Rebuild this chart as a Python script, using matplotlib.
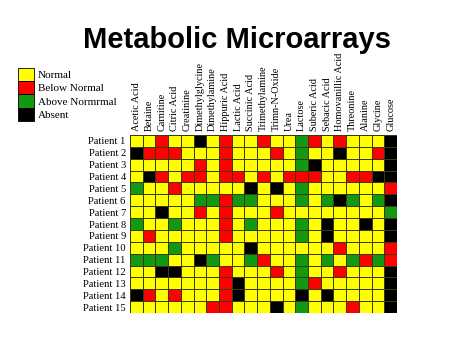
import matplotlib
matplotlib.use("Agg")
import matplotlib.pyplot as plt
import numpy as np
from matplotlib.colors import ListedColormap, BoundaryNorm
from matplotlib.patches import Patch

metabolites = ["Acetic Acid", "Betaine", "Carnitine", "Citric Acid", "Creatinine",
               "Dimethylglycine", "Dimethylamine", "Hippuric Acid", "Lactic Acid",
               "Succinic Acid", "Trimethylamine", "Trimn-N-Oxide", "Urea", "Lactose",
               "Suberic Acid", "Sebacic Acid", "Homovanillic Acid", "Threonine",
               "Alanine", "Glycine", "Glucose"]
patients = [f"Patient {i}" for i in range(1, 16)]
status_labels = ["Normal", "Below Normal", "Above Normrmal", "Absent"]
status_colors = ["#FFFF00", "#FF0000", "#129812", "#000000"]

# Y = normal, R = below, G = above, K = absent
grid_rows = [
    "YYRYYKYRYYRYYGRYRYYYK",
    "KRRRYYYRYYYRYGYYKYYRK",
    "YYYYYRYRYYYYYGKYYYYYK",
    "YKRYRRYRRYRYRRRYYRRKK",
    "GYYRYYYYYKYKYGYYYYYYR",
    "YYYYYGGRGGYYYGYGKGYGK",
    "YYKYYRYRYYYRYYYYYYYYG",
    "GYYGYYYRYGYYYGYKYYKYK",
    "YRYYYYYRYYYYYGYKYYYYK",
    "YYYGYYYYYKYYYYYYRYYYR",
    "GGGYYKGYYGRYYGYGYGRGR",
    "YYKKYYYRYYYRYGYYRYYYK",
    "YYYYYYYRKYYYYGRYYYYYK",
    "KRYRYYYRKYYYYKYKYYYYK",
    "YYYYYYRRYYYKYGYYYRYYK",
]
code = {"Y": 0, "R": 1, "G": 2, "K": 3}
data = np.array([[code[c] for c in row] for row in grid_rows])

fig = plt.figure(figsize=(4.74, 3.55), dpi=100)
W, H = 474, 355
ax = fig.add_axes([130 / W, 1 - 313 / H, 267 / W, 178 / H])
cmap = ListedColormap(status_colors)
norm = BoundaryNorm([-0.5, 0.5, 1.5, 2.5, 3.5], cmap.N)
ax.pcolormesh(np.arange(len(metabolites) + 1), np.arange(len(patients) + 1), data,
              cmap=cmap, norm=norm, edgecolors="#3a3a10", linewidth=0.6)
ax.set_xlim(0, len(metabolites))
ax.set_ylim(len(patients), 0)
ax.xaxis.tick_top()
ax.set_xticks(np.arange(len(metabolites)) + 0.5)
ax.set_xticklabels(metabolites, rotation=90, family="Liberation Serif", fontsize=7.4)
ax.set_yticks(np.arange(len(patients)) + 0.5)
ax.set_yticklabels(patients, family="Liberation Serif", fontsize=7.6)
ax.tick_params(length=0, pad=3)
for s in ax.spines.values():
    s.set_visible(False)

fig.text(237 / W, 1 - 40 / H, "Metabolic Microarrays", ha="center", va="center",
         fontsize=21, fontweight="bold", family="Liberation Sans")

handles = [Patch(facecolor=c, edgecolor="black", linewidth=0.6) for c in status_colors]
fig.legend(handles, status_labels, loc="upper left", bbox_to_anchor=(18 / W, 1 - 68 / H),
           frameon=False, labelspacing=0, handlelength=1.45, handleheight=1.45,
           handletextpad=0.35, borderaxespad=0, borderpad=0,
           prop={"family": "Liberation Serif", "size": 8})

fig.savefig("out.png", dpi=100)
